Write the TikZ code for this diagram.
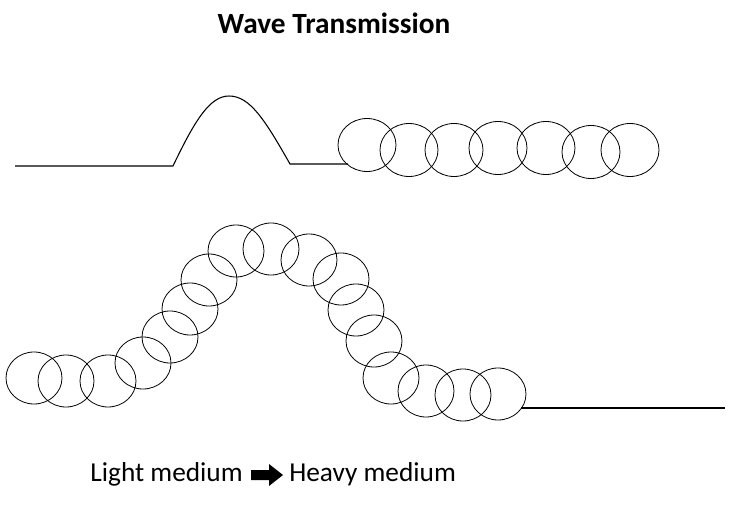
\documentclass[tikz,border=0pt]{standalone}
\usepackage{fontspec}
\setmainfont{Carlito}
\begin{document}
\begin{tikzpicture}[x=0.75pt,y=-0.75pt,
  rope/.style={line width=0.8pt}]
\useasboundingbox (0,0) rectangle (733,510);
\node[font=\bfseries\fontsize{22}{26}\selectfont] (title) at (334,23) {Wave Transmission};
% top
\draw[rope] (15,166) -- (173,166) .. controls (195,120) and (210,96) .. (229,96) .. controls (250,96) and (265,120) .. (290,164) -- (348,164);
\foreach \x/\y in {367/145,409/150,454/150,498/148,546/148,591/152,630/150}
  \draw[line width=0.6pt] (\x,\y) ellipse [x radius=29, y radius=26.5];
% bottom
\foreach \x/\y in {34/378,66/381,108/381,143/363,170/337,190/309,209/280,236/251,271/249,309/260,341/279,356/310,374/341,391/378,426/391,463/395,498/394}
  \draw[line width=0.6pt] (\x,\y) ellipse [x radius=28, y radius=26];
\coordinate (e) at (521,408);
\draw[rope] (e) -- (725,408);
% label
\node[font=\fontsize{20.5}{24}\selectfont,anchor=east,inner sep=0pt] (l) at (243,474) {Light medium};
\node[font=\fontsize{20.5}{24}\selectfont,anchor=west,inner sep=0pt] (h) at (289,474) {Heavy medium};
\fill (251,470) -- (269,470) -- (269,464) -- (283,475) -- (269,486) -- (269,480) -- (251,480) -- cycle;
\end{tikzpicture}
\end{document}
